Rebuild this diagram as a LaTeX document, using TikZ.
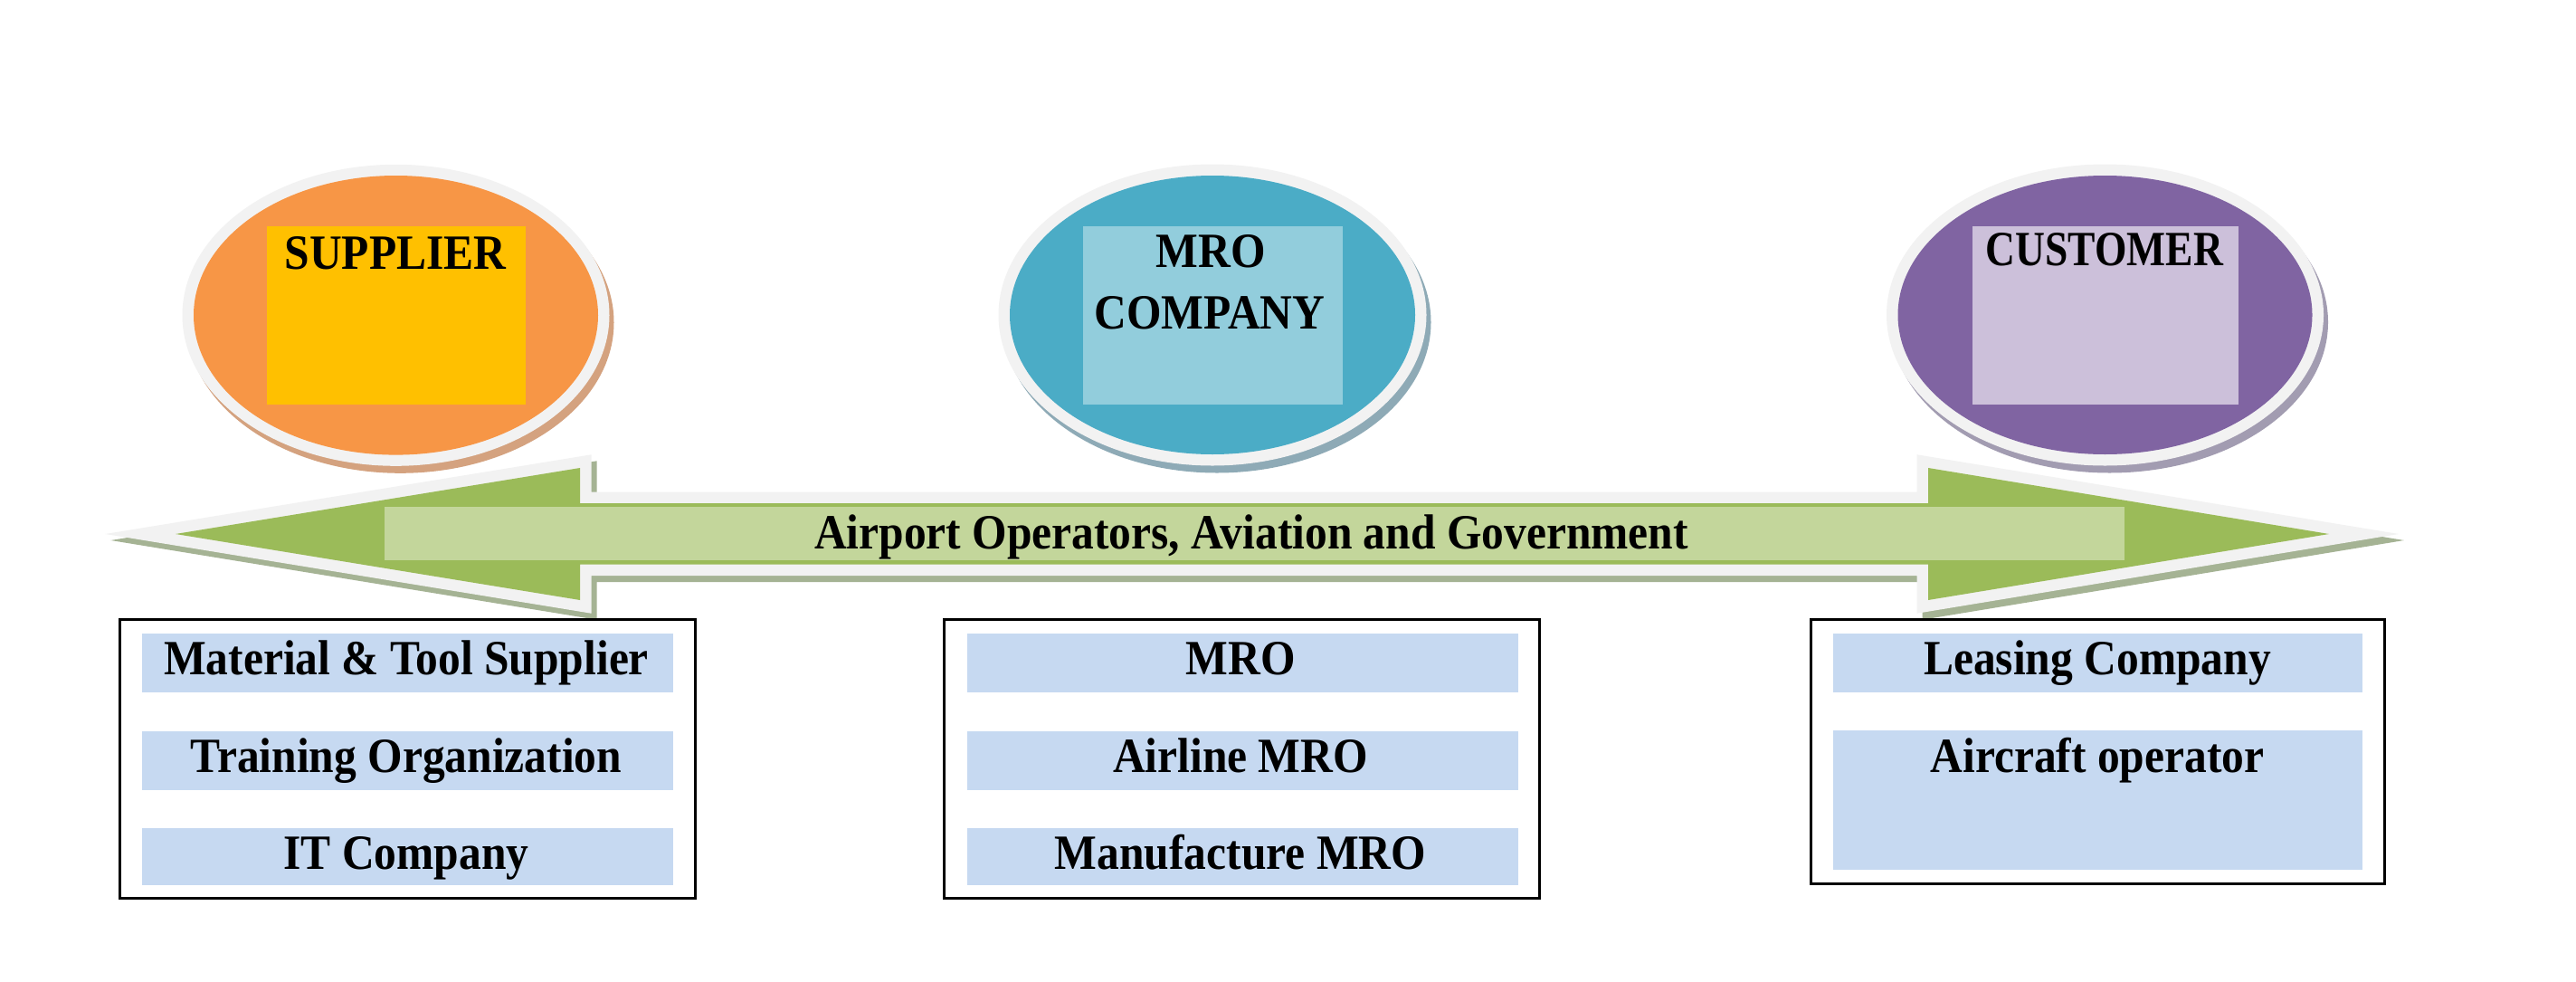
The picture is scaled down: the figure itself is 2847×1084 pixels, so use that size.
\documentclass[tikz,border=0pt]{standalone}
\usepackage{graphicx}
\usepackage{fontspec}
\setmainfont{Liberation Serif}[FakeStretch=0.91]
\definecolor{ringgray}{HTML}{F2F2F2}
\definecolor{orangeE}{HTML}{F79646}
\definecolor{orangeIn}{HTML}{FFC000}
\definecolor{orangeSh}{HTML}{D4A27F}
\definecolor{blueE}{HTML}{4BACC6}
\definecolor{blueIn}{HTML}{92CDDC}
\definecolor{blueSh}{HTML}{8EAAB6}
\definecolor{purpleE}{HTML}{8064A2}
\definecolor{purpleIn}{HTML}{CCC0DA}
\definecolor{purpleSh}{HTML}{A29CB1}
\definecolor{arrowG}{HTML}{9BBB59}
\definecolor{arrowIn}{HTML}{C3D69B}
\definecolor{arrowSh}{HTML}{A5B394}
\definecolor{barblue}{HTML}{C6D9F1}
\begin{document}
\begin{tikzpicture}[x=1pt,y=-1pt,
  lbl/.style={font=\fontsize{54.4}{65}\selectfont\bfseries, inner sep=0pt, anchor=base, text=black},
  bar/.style={fill=barblue, draw=none, inner sep=0pt, anchor=north west},
  inrect/.style={draw=none, inner sep=0pt},
  framebox/.style={draw=black, line width=3pt, fill=none},
  arrowshape/.style={insert path={(194,590) -- (641,517) -- (641,556) -- (2131,556) -- (2131,517) -- (2574,590) -- (2131,663) -- (2131,623.5) -- (641,623.5) -- (641,663) -- cycle}}
]
\useasboundingbox (0,0) rectangle (2847,1084);
\fill[white] (0,0) rectangle (2847,1084);

% ---- ellipses ----
% supplier
\fill[orangeSh] (442.5,356.3) ellipse [x radius=236, y radius=166.5];
\fill[ringgray] (437.5,348.3) ellipse [x radius=236, y radius=166.5];
\fill[orangeE] (437.5,348.3) ellipse [x radius=223.5, y radius=154.3];
\node[inrect, fill=orangeIn, minimum width=286.2pt, minimum height=196.7pt] (supR) at (437.8,348.35) {};
\node[lbl] (supT) at (437,297.3) {SUPPLIER};

% mro company
\fill[blueSh] (1345,356) ellipse [x radius=236.5, y radius=166.5];
\fill[ringgray] (1340,348) ellipse [x radius=236.5, y radius=166.5];
\fill[blueE] (1340,348) ellipse [x radius=224, y radius=154];
\node[inrect, fill=blueIn, minimum width=286.6pt, minimum height=197.2pt] (mroR) at (1340.2,348.6) {};
\node[lbl] (mroT1) at (1338,295.6) {MRO};
\node[lbl] (mroT2) at (1337,363) {COMPANY};

% customer
\fill[purpleSh] (2331.5,356) ellipse [x radius=241.5, y radius=166.5];
\fill[ringgray] (2326.5,348) ellipse [x radius=241.5, y radius=166.5];
\fill[purpleE] (2326.5,348) ellipse [x radius=229, y radius=154];
\node[inrect, fill=purpleIn, minimum width=294pt, minimum height=197.2pt] (cusR) at (2327,348.6) {};
\node[lbl] (cusT) at (2326,293) {\scalebox{0.92}[1]{CUSTOMER}};

% ---- double arrow ----
\begin{scope}[shift={(6,7)}]
  \path[fill=arrowSh, draw=arrowSh, line width=25pt, line join=miter, miter limit=10, arrowshape];
\end{scope}
\path[fill=ringgray, draw=ringgray, line width=25pt, line join=miter, miter limit=10, arrowshape];
\path[fill=arrowG, arrowshape];
\node[inrect, fill=arrowIn, minimum width=1923.5pt, minimum height=58.3pt, anchor=north west] (band) at (424.5,560) {};
\node[lbl] (bandT) at (1383,606) {Airport Operators, Aviation and Government};

% ---- lower boxes ----
\draw[framebox] (132,684) rectangle (768,992.8);
\draw[framebox] (1043.5,684) rectangle (1701.5,992.8);
\draw[framebox] (2001,684) rectangle (2635,976.2);

% left bars
\node[bar, minimum width=587pt, minimum height=65pt] (lb1) at (156.4,699.3) {};
\node[bar, minimum width=587pt, minimum height=65.4pt] (lb2) at (156.4,807.3) {};
\node[bar, minimum width=587pt, minimum height=62.7pt] (lb3) at (156.4,915) {};
\node[lbl] (lt1) at (449,745) {Material \& Tool Supplier};
\node[lbl] (lt2) at (449,853.3) {Training Organization};
\node[lbl] (lt3) at (449,960) {IT Company};

% middle bars
\node[bar, minimum width=608.7pt, minimum height=65pt] (mb1) at (1068.9,699.3) {};
\node[bar, minimum width=608.7pt, minimum height=65.4pt] (mb2) at (1068.9,807.3) {};
\node[bar, minimum width=608.7pt, minimum height=62.7pt] (mb3) at (1068.9,915) {};
\node[lbl] (mt1) at (1371,745) {MRO};
\node[lbl] (mt2) at (1371,853.3) {Airline MRO};
\node[lbl] (mt3) at (1371,960) {Manufacture MRO};

% right bars
\node[bar, minimum width=585.7pt, minimum height=65pt] (rb1) at (2025.5,699.3) {};
\node[bar, minimum width=585.7pt, minimum height=153.7pt] (rb2) at (2025.5,807) {};
\node[lbl] (rt1) at (2318,745) {Leasing Company};
\node[lbl] (rt2) at (2318,853.3) {Aircraft operator};
\end{tikzpicture}
\end{document}
